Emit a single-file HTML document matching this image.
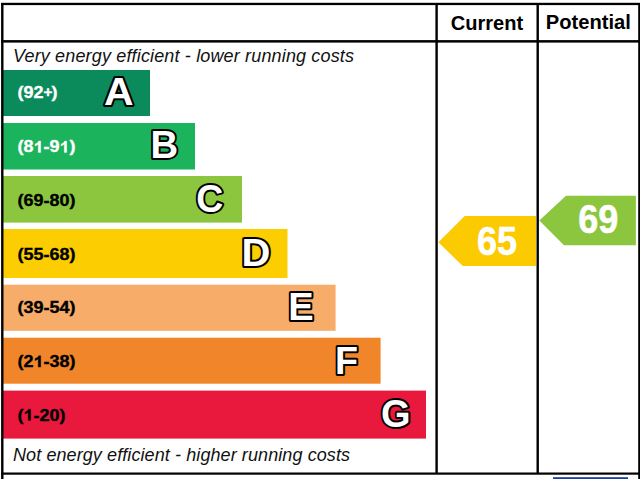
<!DOCTYPE html>
<html><head><meta charset="utf-8">
<style>
html,body{margin:0;padding:0;background:#fff;width:640px;height:479px;overflow:hidden;}
svg{display:block;}
text{font-family:"Liberation Sans",sans-serif;}
.lbl{font-weight:bold;font-size:16.5px;stroke-width:0.35px;}
.lbl[fill="#fff"]{stroke:#fff;}
.lbl[fill="#000"]{stroke:#000;}
.big{font-weight:bold;font-size:39px;fill:#fff;stroke:#000;stroke-width:4px;paint-order:stroke fill;stroke-linejoin:round;}
.it{font-style:italic;font-size:18px;fill:#111;}
.hd{font-weight:bold;font-size:21px;fill:#000;}
.num{font-weight:bold;font-size:40px;fill:#fff;stroke:#fff;stroke-width:0.6px;}
</style></head>
<body>
<svg width="640" height="479" viewBox="0 0 640 479">
<rect x="0" y="0" width="640" height="479" fill="#fff"/>
<!-- bars -->
<rect x="3" y="70" width="147" height="46" fill="#0b8a5b"/>
<rect x="3" y="123" width="192" height="46.5" fill="#1cb35d"/>
<rect x="3" y="176" width="239" height="46.6" fill="#8cc63f"/>
<rect x="3" y="229" width="284.5" height="49" fill="#fccd00"/>
<rect x="3" y="284.7" width="332.6" height="46.1" fill="#f7ad69"/>
<rect x="3" y="337.7" width="377.6" height="46" fill="#f1852a"/>
<rect x="3" y="390.6" width="423" height="48" fill="#e8193c"/>
<!-- range labels -->
<text class="lbl" transform="translate(17.6,97.8) scale(1.09,1)" fill="#fff">(92<tspan font-size="14" dy="-0.6">+</tspan><tspan dy="0.6" dx="-1">)</tspan></text>
<text class="lbl" transform="translate(17.6,152.4) scale(1.09,1)" fill="#fff">(8 -9 )</text>
<path transform="translate(33.59,152.4) scale(0.008782,-0.008057)" d="M812 0L531 0L531 1010Q377 873 168 808L168 1052Q278 1087 407 1182Q536 1278 584 1409L812 1409Z" fill="#fff" stroke="#fff" stroke-width="0.35" vector-effect="non-scaling-stroke"/>
<path transform="translate(59.59,152.4) scale(0.008782,-0.008057)" d="M812 0L531 0L531 1010Q377 873 168 808L168 1052Q278 1087 407 1182Q536 1278 584 1409L812 1409Z" fill="#fff" stroke="#fff" stroke-width="0.35" vector-effect="non-scaling-stroke"/>
<text class="lbl" transform="translate(17.6,206) scale(1.09,1)" fill="#000">(69-80)</text>
<text class="lbl" transform="translate(17.6,259.8) scale(1.09,1)" fill="#000">(55-68)</text>
<text class="lbl" transform="translate(17.6,313.4) scale(1.09,1)" fill="#000">(39-54)</text>
<text class="lbl" transform="translate(17.6,367.1) scale(1.09,1)" fill="#000">(2 -38)</text>
<path transform="translate(33.59,367.1) scale(0.008782,-0.008057)" d="M812 0L531 0L531 1010Q377 873 168 808L168 1052Q278 1087 407 1182Q536 1278 584 1409L812 1409Z" fill="#000" stroke="#000" stroke-width="0.35" vector-effect="non-scaling-stroke"/>
<text class="lbl" transform="translate(17.6,420.5) scale(1.09,1)" fill="#000">( -20)</text>
<path transform="translate(23.59,420.5) scale(0.008782,-0.008057)" d="M812 0L531 0L531 1010Q377 873 168 808L168 1052Q278 1087 407 1182Q536 1278 584 1409L812 1409Z" fill="#000" stroke="#000" stroke-width="0.35" vector-effect="non-scaling-stroke"/>
<!-- big letters -->
<text class="big" transform="translate(104.0,105.4) scale(1.05,1)">A</text>
<text class="big" transform="translate(150.5,157.7) scale(0.98,1)">B</text>
<text class="big" transform="translate(196.2,211.5) scale(0.96,1)">C</text>
<text class="big" transform="translate(241.5,265.6) scale(1.025,1)">D</text>
<text class="big" transform="translate(288.2,320.3) scale(0.975,1)">E</text>
<text class="big" transform="translate(334.9,373.6) scale(0.965,1)">F</text>
<text class="big" transform="translate(380.9,426.5) scale(0.975,1)">G</text>
<!-- italic captions -->
<text class="it" x="13" y="62" textLength="341">Very energy efficient - lower running costs</text>
<text class="it" x="13" y="460.8" textLength="337">Not energy efficient - higher running costs</text>
<!-- headers -->
<text class="hd" transform="translate(450.8,29.6) scale(0.955,1)">Current</text>
<text class="hd" transform="translate(545.8,29.3) scale(0.96,1)">Potential</text>
<!-- arrows -->
<path d="M438.4 242.3 L464.7 216.1 L536 216.1 L536 266 L462.8 266 Z" fill="#fbca00"/>
<text class="num" transform="translate(477,254.5) scale(0.9,1)">65</text>
<path d="M539.3 220.4 L566 195.7 L635.9 195.7 L635.9 245.2 L564 245.2 Z" fill="#8cc63e"/>
<text class="num" transform="translate(578.3,233.2) scale(0.9,1)">69</text>
<!-- grid lines -->
<rect x="1" y="2.8" width="639" height="2.3" fill="#000"/>
<rect x="1" y="40.1" width="639" height="2.5" fill="#000"/>
<rect x="1" y="472.5" width="639" height="2.2" fill="#000"/>
<rect x="1.1" y="3" width="2.4" height="476" fill="#000"/>
<rect x="638.2" y="3" width="1.8" height="476" fill="#000"/>
<rect x="435.4" y="3" width="2.4" height="471" fill="#000"/>
<rect x="536.5" y="3" width="2.4" height="471" fill="#000"/>
<!-- blue strip -->
<rect x="553" y="477.2" width="75" height="1.8" fill="#1a3f9e"/>
</svg>
</body></html>
